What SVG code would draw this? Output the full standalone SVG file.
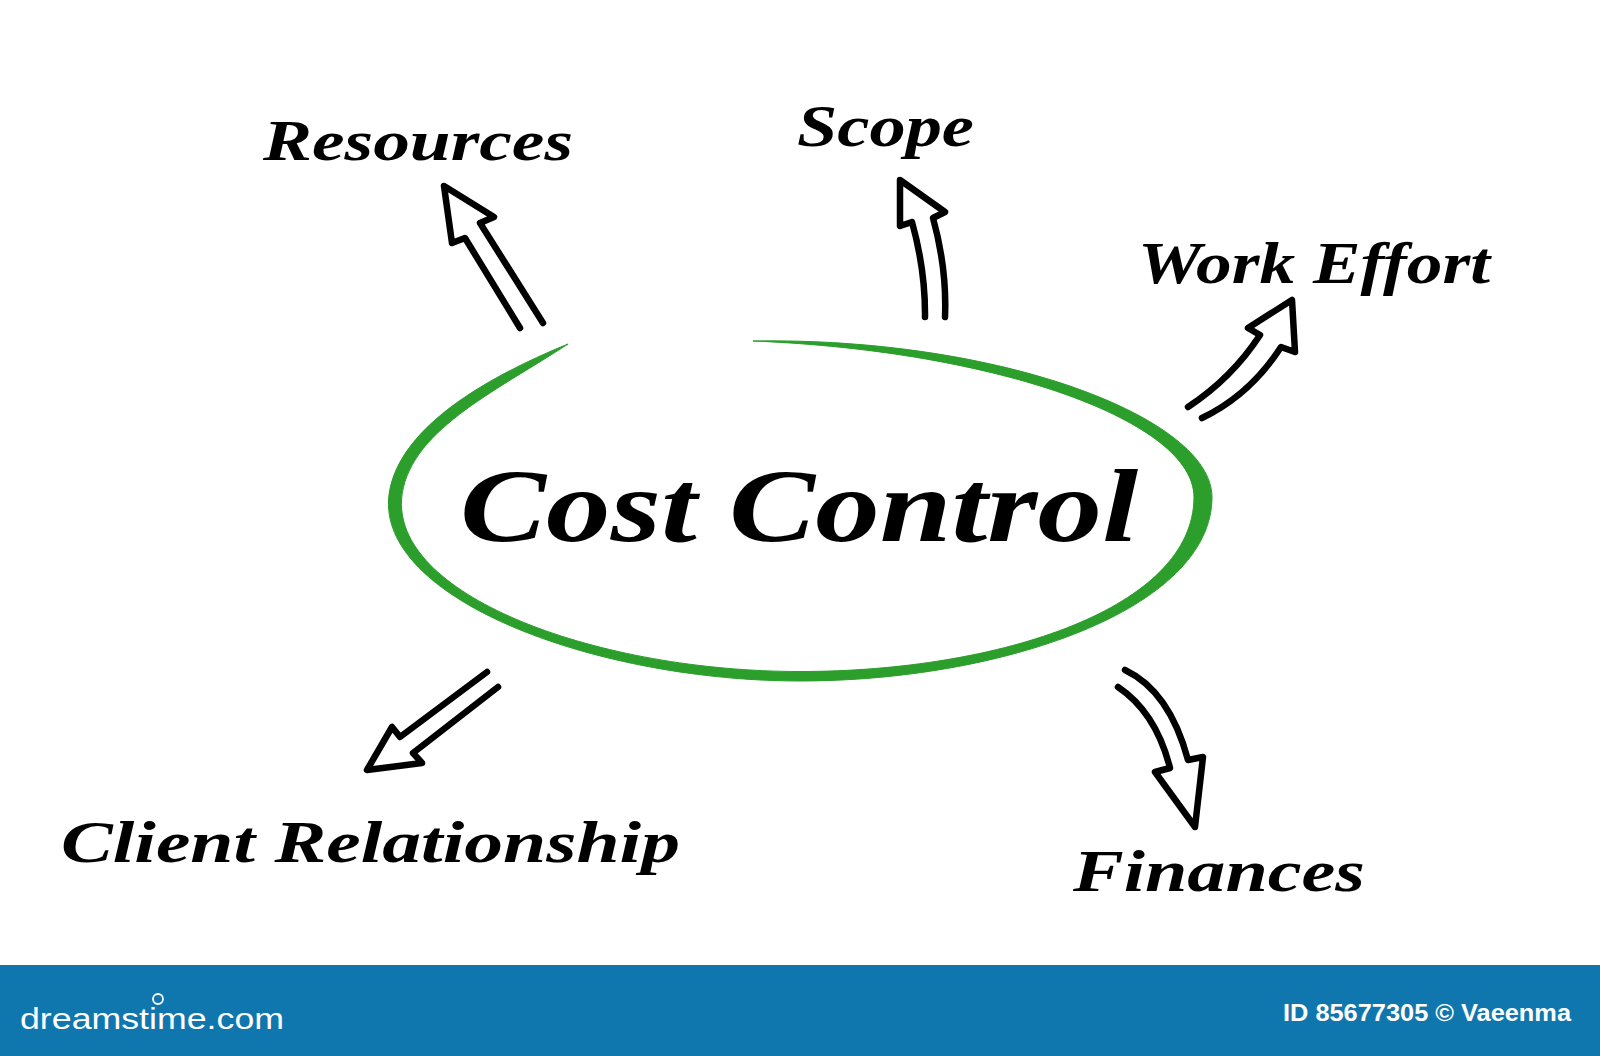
<svg xmlns="http://www.w3.org/2000/svg" width="1600" height="1056" viewBox="0 0 1600 1056">
  <style>
    .lbl { font-family: "Liberation Serif", "DejaVu Serif", serif; font-style: italic; font-weight: bold; fill: #000; }
    .arrow { fill: none; stroke: #000; stroke-width: 6.5; stroke-linecap: round; stroke-linejoin: round; }
    .ring { fill: #2b9e2b; stroke: #2b9e2b; stroke-width: 1; stroke-linejoin: round; }
    .foot { font-family: "Liberation Sans", "DejaVu Sans", sans-serif; fill: #ffffff; }
  </style>
  <rect x="0" y="0" width="1600" height="1056" fill="#ffffff"/>

  <g id="node-cost-control">
    <path class="ring" d="M 568,344 C 485,378 393.5,430 388.5,500 C 383.5,602 600,681 800,681 C 1000,681 1212,610 1212,497 C 1212,418 1000,337 753,341 C 1000,351 1194,422 1194,497 C 1194,608 1000,671.5 800,671.5 C 600,671.5 396.5,598 401.5,500 C 406.5,432 495,392 568,344 Z"/>
    <text class="lbl" x="460" y="541" font-size="103" textLength="678" lengthAdjust="spacingAndGlyphs">Cost Control</text>
  </g>

  <g id="node-resources">
    <text class="lbl" x="263" y="160" font-size="57" textLength="310" lengthAdjust="spacingAndGlyphs">Resources</text>
  </g>
  <g id="node-scope">
    <text class="lbl" x="797" y="146" font-size="59" textLength="177" lengthAdjust="spacingAndGlyphs">Scope</text>
  </g>
  <g id="node-work-effort">
    <text class="lbl" x="1138" y="283" font-size="59" textLength="352" lengthAdjust="spacingAndGlyphs">Work Effort</text>
  </g>
  <g id="node-client-relationship">
    <text class="lbl" x="61" y="862" font-size="59" textLength="619" lengthAdjust="spacingAndGlyphs">Client Relationship</text>
  </g>
  <g id="node-finances">
    <text class="lbl" x="1073" y="891" font-size="59" textLength="292" lengthAdjust="spacingAndGlyphs">Finances</text>
  </g>

  <g id="connectors">
    <path class="arrow" d="M 520,328 L 465,238 L 452,243 L 444,186 L 494,217 L 480,223 L 543,323"/>
    <path class="arrow" d="M 925,317 Q 925.5,270.5 912,222 L 900,226 L 900,180 L 945,212 L 933,218 Q 947,268.5 945,317"/>
    <path class="arrow" d="M 1188,407 Q 1232,378 1260,335 L 1248,328 L 1292,300 L 1295,352 L 1281,347 Q 1250,395 1202,418"/>
    <path class="arrow" d="M 487,672 L 400,737 L 392,727 L 367,770 L 422,763 L 413,753 L 498,687"/>
    <path class="arrow" d="M 1125,670 Q 1169.5,691 1188,760 L 1203,757 L 1195,827 L 1155,772 L 1170,768 Q 1156,712.5 1118,687"/>
  </g>

  <g id="footer">
    <rect x="0" y="965" width="1600" height="91" fill="#1077ae"/>
    <text class="foot" x="20" y="1029" font-size="29" textLength="264" lengthAdjust="spacingAndGlyphs">dreamstime.com</text>
    <circle cx="158" cy="999" r="5" fill="none" stroke="#ffffff" stroke-width="1.8"/>
    <text class="foot" x="1283" y="1021" font-size="24" font-weight="bold" textLength="288" lengthAdjust="spacingAndGlyphs">ID 85677305 © Vaeenma</text>
  </g>
</svg>
